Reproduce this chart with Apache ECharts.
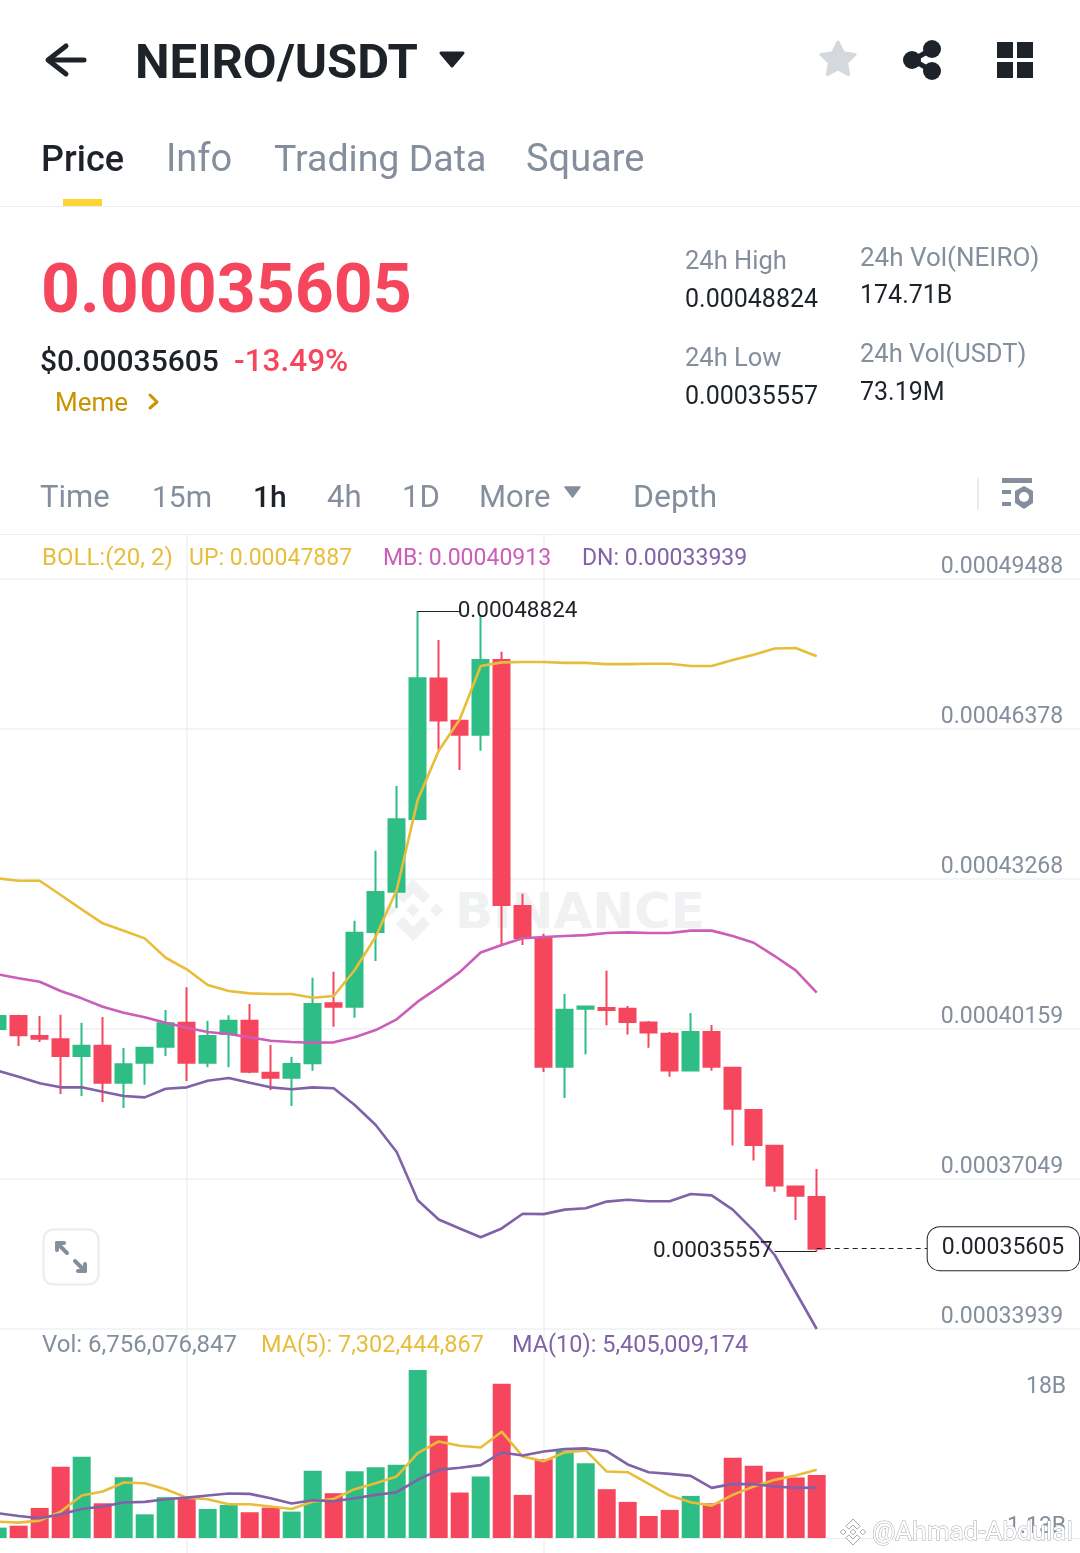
<!DOCTYPE html>
<html>
<head>
<meta charset="utf-8">
<title>NEIRO/USDT</title>
<script src="https://cdn.jsdelivr.net/npm/echarts@6/dist/echarts.min.js"></script>
<style>
    html, body { margin: 0; padding: 0; background: #fff; }
    #main { width: 1080px; height: 1553px; }
</style>
</head>
<body>
<div id="main"></div>
<script>
// prices are in units of 1e-8 USDT, volumes in billions
var priceTicks = [33939, 37049, 40159, 43268, 46378, 49488];
var volumeTicks = [1.13, 18];

var candleOpen = [40158,40427,40013,39944,39598,39812,39045,39459,39791,40289,39459,40054,40330,39252,39149,39447,40691,40620,42169,43004,44511,47426,46547,46261,47807,42708,42044,39374,40577,40595,40577,40291,40059,39300,40096,39356,38479,37737,36895,36675];
var candleClose = [40427,40027,39957,39598,39812,39045,39426,39770,40276,39459,40013,40330,39273,39149,39432,40676,40620,42154,42998,44505,47428,46555,46261,47807,42729,42044,39374,40560,40624,40552,40303,40087,39300,40096,39374,38504,37753,36914,36700,35605];
var candleLow = [40117,39806,39889,38811,38769,38645,38520,39003,39598,39080,39364,39364,39240,38893,38562,39294,40206,40392,41568,42660,44511,45946,45527,45927,41899,41899,39267,38728,39634,40235,40042,39772,39171,39287,39291,37745,37432,36783,36199,35557];
var candleHigh = [40469,40454,40427,40454,40289,40407,39764,39770,40552,41022,40330,40442,40676,39826,39584,41221,41346,42403,43854,45195,48824,48222,46547,48740,47981,42965,42131,40884,40624,41365,40635,40324,40096,40490,40241,39374,38500,37753,36914,37256];

var bollUp = [43282,43232,43232,42936,42639,42349,42196,42038,41636,41396,41070,40946,40898,40884,40884,40807,40842,41381,42071,43039,44909,45927,46574,47685,47760,47768,47768,47749,47749,47724,47724,47731,47731,47685,47685,47807,47917,48046,48056,47887];
var bollMid = [41292,41209,41139,40946,40794,40620,40496,40401,40289,40185,40096,40054,39986,39916,39889,39874,39882,39986,40137,40359,40726,41022,41338,41744,41901,42040,42067,42086,42105,42150,42161,42150,42150,42198,42198,42086,41947,41671,41373,40913];
var bollDown = [39294,39169,39032,38949,38949,38858,38769,38742,38920,38949,39086,39142,39045,38949,38908,38949,38929,38583,38168,37608,36607,36209,36024,35840,36024,36329,36321,36414,36441,36580,36617,36588,36588,36738,36709,36414,35979,35473,34706,33939];

var volume = [1.11,1.32,3.22,7.63,8.70,3.72,6.52,2.54,4.37,4.22,3.11,3.54,2.76,3.26,2.83,7.20,4.80,7.16,7.59,7.84,18.04,10.96,4.87,6.59,16.54,4.62,8.45,9.34,8.02,5.23,3.87,2.36,3.01,4.51,3.72,8.59,7.73,7.09,6.48,6.76];
var volumeMa5 = [1.75,1.65,1.86,2.83,4.55,4.98,5.94,5.87,5.23,4.33,4.15,3.62,3.62,3.37,3.11,3.90,4.19,5.23,5.87,6.59,9.09,10.35,9.88,9.70,11.39,8.74,8.23,9.17,9.38,7.12,7.05,5.80,4.55,3.83,3.47,4.62,5.51,6.23,6.70,7.30];
var volumeMa10 = [2.65,2.36,2.11,2.54,3.11,3.37,3.80,3.87,4.15,4.33,4.55,4.76,4.73,4.26,3.69,4.05,3.94,4.26,4.62,4.91,6.23,7.30,7.52,7.81,9.17,8.84,9.27,9.52,9.60,9.31,7.88,7.05,6.87,6.66,5.37,5.80,5.76,5.51,5.37,5.40];

var verticalGuides = [9, 26];
var highIndex = 20, lowIndex = 39, highPrice = 48824, lowPrice = 35557, lastPrice = 35605;

var GREEN = '#2EBD85', RED = '#F6465D', DARK = '#1E2329', GREY = '#848E9C';
var YELLOW = '#E8BD3A', PINK = '#CC5DB8', PURPLE = '#7F62A8', LINE = '#EEF0F2';
var FONT = 'Roboto';

// 40 candles plus the empty slots on the right of the last one
var slots = [];
for (var s = 0; s < 53; s++) slots.push(String(s));

function price(v) { return (v / 1e8).toFixed(8); }

function txt(t, x, y, color, size, weight, extra) {
    var style = {
        text: t, x: x, y: y + size * 0.1, fill: color,
        font: (weight || 'normal') + ' ' + size + 'px ' + FONT,
        textVerticalAlign: 'middle'
    };
    for (var k in extra) style[k] = extra[k];
    return {type: 'text', z: 5, silent: true, style: style};
}

function hline(x1, x2, y, color, w) {
    return {type: 'line', z: 1, silent: true, shape: {x1: x1, y1: y, x2: x2, y2: y}, style: {stroke: color, lineWidth: w || 1}};
}

function poly(points, style, z) {
    return {type: 'polygon', z: z === undefined ? 5 : z, silent: true, shape: {points: points}, style: style};
}

// five small shapes of the exchange logo
function logo(cx, cy, r, style, z) {
    function at(list) {
        return list.map(function (p) { return [cx + p[0] * r, cy + p[1] * r]; });
    }
    function diamond(dx, d) {
        return at([[dx, -d], [dx + d, 0], [dx, d], [dx - d, 0]]);
    }
    return [
        poly(at([[0, -1], [0.55, -0.45], [0.32, -0.22], [0, -0.54], [-0.32, -0.22], [-0.55, -0.45]]), style, z),
        poly(at([[0, 1], [0.55, 0.45], [0.32, 0.22], [0, 0.54], [-0.32, 0.22], [-0.55, 0.45]]), style, z),
        poly(diamond(0, 0.22), style, z),
        poly(diamond(-0.76, 0.22), style, z),
        poly(diamond(0.76, 0.22), style, z)
    ];
}

function star(cx, cy, R, r) {
    var pts = [];
    for (var i = 0; i < 10; i++) {
        var a = -Math.PI / 2 + i * Math.PI / 5, d = i % 2 ? r : R;
        pts.push([cx + d * Math.cos(a), cy + d * Math.sin(a)]);
    }
    return pts;
}

function stroke(points, color, w) {
    return {type: 'polyline', z: 5, silent: true, shape: {points: points}, style: {stroke: color, fill: null, lineWidth: w, lineCap: 'round', lineJoin: 'round'}};
}

function circle(cx, cy, r, color) {
    return {type: 'circle', z: 5, silent: true, shape: {cx: cx, cy: cy, r: r}, style: {fill: color}};
}

function box(x, y, w, h, color) {
    return {type: 'rect', z: 5, silent: true, shape: {x: x, y: y, width: w, height: h}, style: {fill: color}};
}

var graphics = [
    // top bar
    stroke([[84, 60], [50, 60]], DARK, 5),
    stroke([[66, 46], [48, 60], [66, 74]], DARK, 5),
    txt('NEIRO/USDT', 135, 61, DARK, 49, 'bold'),
    poly([[441, 53], [463, 53], [452, 66]], {fill: DARK, stroke: DARK, lineWidth: 3, lineJoin: 'round'}),
    poly(star(838, 60, 18, 9), {fill: '#D5D8DC', stroke: '#D5D8DC', lineWidth: 3, lineJoin: 'round'}),
    stroke([[932, 49], [913, 60], [932, 71]], DARK, 5),
    circle(932, 49, 9, DARK), circle(912, 60, 9, DARK), circle(932, 71, 9, DARK),
    box(997, 42, 16, 16, DARK), box(1017, 42, 16, 16, DARK),
    box(997, 62, 16, 16, DARK), box(1017, 62, 16, 16, DARK),
    // tabs
    txt('Price', 41, 158, DARK, 36, '500'),
    txt('Info', 166, 158, GREY, 38),
    txt('Trading Data', 274, 158, GREY, 37.5),
    txt('Square', 526, 158, GREY, 38),
    box(63, 199, 39, 7, '#FCD535'),
    hline(0, 1080, 206.5, '#EAECEF'),
    // price block
    txt(price(lastPrice), 41, 288, RED, 68, 'bold'),
    txt('$' + price(lastPrice), 40, 360, DARK, 30, '500'),
    txt('-13.49%', 234, 360, RED, 31.5, '500'),
    txt('Meme', 55, 402, '#C99400', 26),
    stroke([[150, 395], [157, 402], [150, 408]], '#C99400', 3),
    txt('24h High', 685, 260, GREY, 25.5),
    txt(price(highPrice), 685, 298, DARK, 25),
    txt('24h Low', 685, 357, GREY, 25.5),
    txt(price(lowPrice), 685, 395, DARK, 25),
    txt('24h Vol(NEIRO)', 860, 257, GREY, 26),
    txt('174.71B', 860, 294, DARK, 25),
    txt('24h Vol(USDT)', 860, 353, GREY, 25.5),
    txt('73.19M', 860, 391, DARK, 25),
    // interval row
    txt('Time', 40, 496, GREY, 31),
    txt('15m', 152, 496, GREY, 30),
    txt('1h', 253, 496, DARK, 30, '500'),
    txt('4h', 327, 496, GREY, 31),
    txt('1D', 402, 496, GREY, 31),
    txt('More', 479, 496, GREY, 31),
    poly([[565, 487], [580, 487], [572.5, 497]], {fill: GREY, stroke: GREY, lineWidth: 1.5, lineJoin: 'round'}),
    txt('Depth', 633, 496, GREY, 32),
    box(977, 478, 2, 32, '#EAECEF'),
    box(1002, 478, 30, 5, GREY), box(1002, 490, 9, 4, GREY), box(1002, 502, 9, 4, GREY),
    poly([[1024, 486], [1033, 491], [1033, 503], [1024, 509], [1015, 503], [1015, 491]], {fill: GREY}),
    circle(1024, 497, 5, '#fff'),
    hline(0, 1080, 534.5, '#EAECEF'),
    // indicator rows
    txt('BOLL:(20, 2)', 42, 557, YELLOW, 24),
    txt('UP: ' + price(bollUp[39]), 189, 557, YELLOW, 23),
    txt('MB: ' + price(bollMid[39]), 383, 557, PINK, 23),
    txt('DN: ' + price(bollDown[39]), 582, 557, PURPLE, 23),
    txt('Vol: 6,756,076,847', 42, 1344, GREY, 24),
    txt('MA(5): 7,302,444,867', 261, 1344, YELLOW, 23.5),
    txt('MA(10): 5,405,009,174', 512, 1344, PURPLE, 23.5),
    // expand button
    {type: 'rect', z: 5, silent: true, shape: {x: 43.5, y: 1229.5, width: 55, height: 55, r: 10}, style: {fill: '#fff', stroke: '#EAECEF', lineWidth: 2}},
    stroke([[57, 1243], [67, 1253]], GREY, 4),
    stroke([[57, 1250], [57, 1243], [64, 1243]], GREY, 4),
    stroke([[85, 1271], [75, 1261]], GREY, 4),
    stroke([[85, 1264], [85, 1271], [78, 1271]], GREY, 4),
    // background mark
    txt('BINANCE', 455, 910, '#EFF1F2', 50, 'bold', {font: 'bold 50px "DejaVu Sans"'}),
    // credit mark
    txt('@Ahmad-Abdulal', 872, 1531, '#fff', 26, 'normal', {stroke: '#A4A9AF', lineWidth: 1})
];
graphics[graphics.length - 2].z = 0;
graphics[graphics.length - 1].z = 20;
graphics = graphics.concat(logo(413, 910, 31, {fill: '#EFF1F2'}, 0));
graphics = graphics.concat(logo(853, 1532, 13, {fill: '#fff', stroke: '#A4A9AF', lineWidth: 1}, 20));

var volumeData = volume.map(function (v, i) {
    return {value: v, itemStyle: {color: candleClose[i] >= candleOpen[i] ? GREEN : RED}};
});

var candleData = candleOpen.map(function (o, i) {
    return [o, candleClose[i], candleLow[i], candleHigh[i]];
});

function bandLine(name, data, color) {
    return {
        name: name, type: 'line', data: data, showSymbol: false, smooth: false, silent: true,
        xAxisIndex: 0, yAxisIndex: 0, z: 4,
        lineStyle: {color: color, width: 2.6}
    };
}

function volLine(name, data, color) {
    return {
        name: name, type: 'line', data: data, showSymbol: false, smooth: false, silent: true,
        xAxisIndex: 1, yAxisIndex: 1, z: 4,
        lineStyle: {color: color, width: 2.6}
    };
}

function hiddenX(grid) {
    return {
        type: 'category', gridIndex: grid, data: slots, boundaryGap: true,
        axisLabel: {show: false}, axisTick: {show: false}, axisLine: {show: false}, splitLine: {show: false}
    };
}

var option = {
    animation: false,
    backgroundColor: '#fff',
    grid: [
        {left: -12.8, width: 1113, top: 579, height: 750, outerBoundsMode: 'none'},
        {left: -12.8, width: 1113, top: 1370, height: 168, outerBoundsMode: 'none'},
        {left: -12.8, width: 1113, top: 535, height: 1018, outerBoundsMode: 'none'}
    ],
    xAxis: [
        hiddenX(0),
        (function () {
            var x = hiddenX(1);
            x.axisLine = {show: true, lineStyle: {color: '#EAECEF', width: 1}};
            return x;
        })(),
        hiddenX(2)
    ],
    yAxis: [
        {
            type: 'value', gridIndex: 0, position: 'right', min: priceTicks[0], max: priceTicks[5], scale: true,
            axisLine: {show: false},
            axisTick: {show: false, customValues: priceTicks},
            splitLine: {show: true, lineStyle: {color: LINE, width: 1.5}},
            axisLabel: {
                inside: true, margin: 37, customValues: priceTicks, color: GREY, fontFamily: FONT, fontSize: 23,
                verticalAlign: 'bottom', padding: [1, 0, 0, 0],
                formatter: function (v) { return price(v); }
            }
        },
        {
            type: 'value', gridIndex: 1, position: 'right', min: 0, max: 18,
            axisLine: {show: false},
            axisTick: {show: false, customValues: volumeTicks},
            splitLine: {show: false},
            axisLabel: {
                inside: true, margin: 34, customValues: volumeTicks, color: GREY, fontFamily: FONT, fontSize: 23,
                verticalAlign: 'middle', verticalAlignMaxLabel: 'top', padding: [6, 0, 0, 0],
                formatter: function (v) { return v + 'B'; }
            }
        },
        {type: 'value', gridIndex: 2, min: 0, max: 1, axisLine: {show: false}, axisTick: {show: false}, axisLabel: {show: false}, splitLine: {show: false}}
    ],
    graphic: graphics,
    series: [
        {
            // vertical guides across both panes
            name: 'guides', type: 'line', xAxisIndex: 2, yAxisIndex: 2, data: [], silent: true, z: 1,
            markLine: {
                silent: true, symbol: 'none', animation: false, z: 1,
                lineStyle: {color: LINE, width: 1.5, type: 'solid'},
                label: {show: false},
                data: verticalGuides.map(function (g) { return {xAxis: g}; })
            }
        },
        {
            name: 'NEIRO/USDT', type: 'candlestick', data: candleData, xAxisIndex: 0, yAxisIndex: 0,
            barWidth: 16, z: 3, silent: true,
            itemStyle: {color: GREEN, color0: RED, borderColor: GREEN, borderColor0: RED, borderWidth: 2},
            markLine: {
                silent: true, symbol: 'none', animation: false, precision: 8,
                data: [
                    [
                        {
                            coord: [highIndex, highPrice],
                            lineStyle: {color: DARK, width: 1, type: 'solid'},
                            label: {
                                show: true, position: 'end', distance: -2, color: DARK, fontFamily: FONT, fontSize: 22.5,
                                padding: [4, 0, 0, 0],
                                formatter: price(highPrice)
                            }
                        },
                        {coord: [highIndex + 2, highPrice]}
                    ],
                    [
                        {
                            coord: [lowIndex, lowPrice],
                            lineStyle: {color: DARK, width: 1, type: 'solid'},
                            label: {
                                show: true, position: 'end', distance: 2, color: DARK, fontFamily: FONT, fontSize: 22.5,
                                padding: [2, 0, 0, 0],
                                formatter: price(lowPrice)
                            }
                        },
                        {coord: [lowIndex - 2, lowPrice]}
                    ],
                    [
                        {
                            coord: [lowIndex, lastPrice],
                            lineStyle: {color: DARK, width: 1, type: [5, 4]},
                            label: {
                                show: true, position: 'end', distance: -15, color: DARK, fontFamily: FONT, fontSize: 23,
                                backgroundColor: '#fff', borderColor: DARK, borderWidth: 1, borderRadius: 12,
                                padding: [12, 15, 8, 14],
                                formatter: price(lastPrice)
                            }
                        },
                        {coord: [lowIndex + 6, lastPrice]}
                    ]
                ]
            }
        },
        bandLine('UP', bollUp, YELLOW),
        bandLine('MB', bollMid, PINK),
        bandLine('DN', bollDown, PURPLE),
        {
            name: 'Vol', type: 'bar', data: volumeData, xAxisIndex: 1, yAxisIndex: 1,
            barWidth: 18, z: 3, silent: true
        },
        volLine('MA(5)', volumeMa5, YELLOW),
        volLine('MA(10)', volumeMa10, PURPLE)
    ]
};

var chart = echarts.init(document.getElementById('main'), null, {renderer: 'canvas', width: 1080, height: 1553});
chart.setOption(option);
</script>
</body>
</html>
